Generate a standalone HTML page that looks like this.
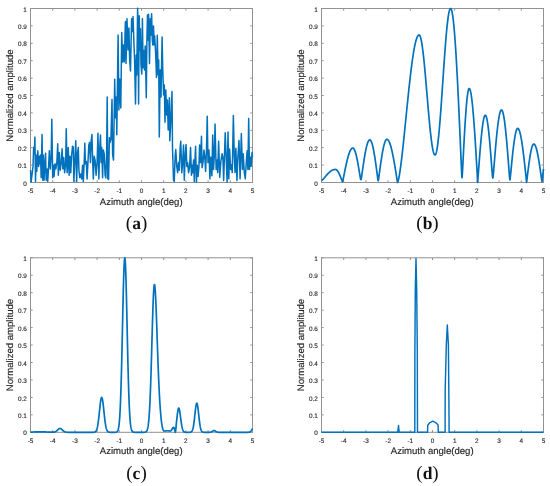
<!DOCTYPE html><html><head><meta charset="utf-8"><title>Figure</title><style>html,body{margin:0;padding:0;background:#fff;width:550px;height:486px;overflow:hidden}svg{display:block}text{text-rendering:geometricPrecision}</style></head><body><svg width="550" height="486" viewBox="0 0 550 486"><g stroke="#929292" stroke-width="1" fill="none"><line x1="30.50" y1="182.5" x2="30.50" y2="180.3" /><line x1="30.50" y1="8.5" x2="30.50" y2="10.7" /><line x1="52.70" y1="182.5" x2="52.70" y2="180.3" /><line x1="52.70" y1="8.5" x2="52.70" y2="10.7" /><line x1="74.90" y1="182.5" x2="74.90" y2="180.3" /><line x1="74.90" y1="8.5" x2="74.90" y2="10.7" /><line x1="97.10" y1="182.5" x2="97.10" y2="180.3" /><line x1="97.10" y1="8.5" x2="97.10" y2="10.7" /><line x1="119.30" y1="182.5" x2="119.30" y2="180.3" /><line x1="119.30" y1="8.5" x2="119.30" y2="10.7" /><line x1="141.50" y1="182.5" x2="141.50" y2="180.3" /><line x1="141.50" y1="8.5" x2="141.50" y2="10.7" /><line x1="163.70" y1="182.5" x2="163.70" y2="180.3" /><line x1="163.70" y1="8.5" x2="163.70" y2="10.7" /><line x1="185.90" y1="182.5" x2="185.90" y2="180.3" /><line x1="185.90" y1="8.5" x2="185.90" y2="10.7" /><line x1="208.10" y1="182.5" x2="208.10" y2="180.3" /><line x1="208.10" y1="8.5" x2="208.10" y2="10.7" /><line x1="230.30" y1="182.5" x2="230.30" y2="180.3" /><line x1="230.30" y1="8.5" x2="230.30" y2="10.7" /><line x1="252.50" y1="182.5" x2="252.50" y2="180.3" /><line x1="252.50" y1="8.5" x2="252.50" y2="10.7" /><line x1="30.5" y1="182.50" x2="32.7" y2="182.50" /><line x1="252.5" y1="182.50" x2="250.3" y2="182.50" /><line x1="30.5" y1="165.10" x2="32.7" y2="165.10" /><line x1="252.5" y1="165.10" x2="250.3" y2="165.10" /><line x1="30.5" y1="147.70" x2="32.7" y2="147.70" /><line x1="252.5" y1="147.70" x2="250.3" y2="147.70" /><line x1="30.5" y1="130.30" x2="32.7" y2="130.30" /><line x1="252.5" y1="130.30" x2="250.3" y2="130.30" /><line x1="30.5" y1="112.90" x2="32.7" y2="112.90" /><line x1="252.5" y1="112.90" x2="250.3" y2="112.90" /><line x1="30.5" y1="95.50" x2="32.7" y2="95.50" /><line x1="252.5" y1="95.50" x2="250.3" y2="95.50" /><line x1="30.5" y1="78.10" x2="32.7" y2="78.10" /><line x1="252.5" y1="78.10" x2="250.3" y2="78.10" /><line x1="30.5" y1="60.70" x2="32.7" y2="60.70" /><line x1="252.5" y1="60.70" x2="250.3" y2="60.70" /><line x1="30.5" y1="43.30" x2="32.7" y2="43.30" /><line x1="252.5" y1="43.30" x2="250.3" y2="43.30" /><line x1="30.5" y1="25.90" x2="32.7" y2="25.90" /><line x1="252.5" y1="25.90" x2="250.3" y2="25.90" /><line x1="30.5" y1="8.50" x2="32.7" y2="8.50" /><line x1="252.5" y1="8.50" x2="250.3" y2="8.50" /><rect x="30.5" y="8.5" width="222.0" height="174.0" fill="none" /></g><g font-family="Liberation Sans, Arial, sans-serif" font-size="6.4" fill="#262626" stroke="#262626" stroke-width="0.12"><text x="30.50" y="193.30" text-anchor="middle">-5</text><text x="52.70" y="193.30" text-anchor="middle">-4</text><text x="74.90" y="193.30" text-anchor="middle">-3</text><text x="97.10" y="193.30" text-anchor="middle">-2</text><text x="119.30" y="193.30" text-anchor="middle">-1</text><text x="141.50" y="193.30" text-anchor="middle">0</text><text x="163.70" y="193.30" text-anchor="middle">1</text><text x="185.90" y="193.30" text-anchor="middle">2</text><text x="208.10" y="193.30" text-anchor="middle">3</text><text x="230.30" y="193.30" text-anchor="middle">4</text><text x="252.50" y="193.30" text-anchor="middle">5</text><text x="26.90" y="185.60" text-anchor="end">0</text><text x="26.90" y="168.20" text-anchor="end">0.1</text><text x="26.90" y="150.80" text-anchor="end">0.2</text><text x="26.90" y="133.40" text-anchor="end">0.3</text><text x="26.90" y="116.00" text-anchor="end">0.4</text><text x="26.90" y="98.60" text-anchor="end">0.5</text><text x="26.90" y="81.20" text-anchor="end">0.6</text><text x="26.90" y="63.80" text-anchor="end">0.7</text><text x="26.90" y="46.40" text-anchor="end">0.8</text><text x="26.90" y="29.00" text-anchor="end">0.9</text><text x="26.90" y="11.60" text-anchor="end">1</text></g><g font-family="Liberation Sans, Arial, sans-serif" font-size="9.55" fill="#262626" stroke="#262626" stroke-width="0.15"><text x="141.20" y="204.50" text-anchor="middle">Azimuth angle(deg)</text><text transform="translate(13.00,95.50) rotate(-90)" x="0" y="0" text-anchor="middle">Normalized amplitude</text></g><text x="136.50" y="229.10" text-anchor="middle" font-family="Liberation Serif, Times New Roman, serif" font-weight="bold" font-size="17.5" fill="#111"><tspan font-weight="normal" font-size="19">(</tspan>a<tspan font-weight="normal" font-size="19">)</tspan></text><g stroke="#929292" stroke-width="1" fill="none"><line x1="321.50" y1="182.5" x2="321.50" y2="180.3" /><line x1="321.50" y1="8.5" x2="321.50" y2="10.7" /><line x1="343.70" y1="182.5" x2="343.70" y2="180.3" /><line x1="343.70" y1="8.5" x2="343.70" y2="10.7" /><line x1="365.90" y1="182.5" x2="365.90" y2="180.3" /><line x1="365.90" y1="8.5" x2="365.90" y2="10.7" /><line x1="388.10" y1="182.5" x2="388.10" y2="180.3" /><line x1="388.10" y1="8.5" x2="388.10" y2="10.7" /><line x1="410.30" y1="182.5" x2="410.30" y2="180.3" /><line x1="410.30" y1="8.5" x2="410.30" y2="10.7" /><line x1="432.50" y1="182.5" x2="432.50" y2="180.3" /><line x1="432.50" y1="8.5" x2="432.50" y2="10.7" /><line x1="454.70" y1="182.5" x2="454.70" y2="180.3" /><line x1="454.70" y1="8.5" x2="454.70" y2="10.7" /><line x1="476.90" y1="182.5" x2="476.90" y2="180.3" /><line x1="476.90" y1="8.5" x2="476.90" y2="10.7" /><line x1="499.10" y1="182.5" x2="499.10" y2="180.3" /><line x1="499.10" y1="8.5" x2="499.10" y2="10.7" /><line x1="521.30" y1="182.5" x2="521.30" y2="180.3" /><line x1="521.30" y1="8.5" x2="521.30" y2="10.7" /><line x1="543.50" y1="182.5" x2="543.50" y2="180.3" /><line x1="543.50" y1="8.5" x2="543.50" y2="10.7" /><line x1="321.5" y1="182.50" x2="323.7" y2="182.50" /><line x1="543.5" y1="182.50" x2="541.3" y2="182.50" /><line x1="321.5" y1="165.10" x2="323.7" y2="165.10" /><line x1="543.5" y1="165.10" x2="541.3" y2="165.10" /><line x1="321.5" y1="147.70" x2="323.7" y2="147.70" /><line x1="543.5" y1="147.70" x2="541.3" y2="147.70" /><line x1="321.5" y1="130.30" x2="323.7" y2="130.30" /><line x1="543.5" y1="130.30" x2="541.3" y2="130.30" /><line x1="321.5" y1="112.90" x2="323.7" y2="112.90" /><line x1="543.5" y1="112.90" x2="541.3" y2="112.90" /><line x1="321.5" y1="95.50" x2="323.7" y2="95.50" /><line x1="543.5" y1="95.50" x2="541.3" y2="95.50" /><line x1="321.5" y1="78.10" x2="323.7" y2="78.10" /><line x1="543.5" y1="78.10" x2="541.3" y2="78.10" /><line x1="321.5" y1="60.70" x2="323.7" y2="60.70" /><line x1="543.5" y1="60.70" x2="541.3" y2="60.70" /><line x1="321.5" y1="43.30" x2="323.7" y2="43.30" /><line x1="543.5" y1="43.30" x2="541.3" y2="43.30" /><line x1="321.5" y1="25.90" x2="323.7" y2="25.90" /><line x1="543.5" y1="25.90" x2="541.3" y2="25.90" /><line x1="321.5" y1="8.50" x2="323.7" y2="8.50" /><line x1="543.5" y1="8.50" x2="541.3" y2="8.50" /><rect x="321.5" y="8.5" width="222.0" height="174.0" fill="none" /></g><g font-family="Liberation Sans, Arial, sans-serif" font-size="6.4" fill="#262626" stroke="#262626" stroke-width="0.12"><text x="321.50" y="193.30" text-anchor="middle">-5</text><text x="343.70" y="193.30" text-anchor="middle">-4</text><text x="365.90" y="193.30" text-anchor="middle">-3</text><text x="388.10" y="193.30" text-anchor="middle">-2</text><text x="410.30" y="193.30" text-anchor="middle">-1</text><text x="432.50" y="193.30" text-anchor="middle">0</text><text x="454.70" y="193.30" text-anchor="middle">1</text><text x="476.90" y="193.30" text-anchor="middle">2</text><text x="499.10" y="193.30" text-anchor="middle">3</text><text x="521.30" y="193.30" text-anchor="middle">4</text><text x="543.50" y="193.30" text-anchor="middle">5</text><text x="317.90" y="185.60" text-anchor="end">0</text><text x="317.90" y="168.20" text-anchor="end">0.1</text><text x="317.90" y="150.80" text-anchor="end">0.2</text><text x="317.90" y="133.40" text-anchor="end">0.3</text><text x="317.90" y="116.00" text-anchor="end">0.4</text><text x="317.90" y="98.60" text-anchor="end">0.5</text><text x="317.90" y="81.20" text-anchor="end">0.6</text><text x="317.90" y="63.80" text-anchor="end">0.7</text><text x="317.90" y="46.40" text-anchor="end">0.8</text><text x="317.90" y="29.00" text-anchor="end">0.9</text><text x="317.90" y="11.60" text-anchor="end">1</text></g><g font-family="Liberation Sans, Arial, sans-serif" font-size="9.55" fill="#262626" stroke="#262626" stroke-width="0.15"><text x="432.20" y="204.50" text-anchor="middle">Azimuth angle(deg)</text><text transform="translate(304.00,95.50) rotate(-90)" x="0" y="0" text-anchor="middle">Normalized amplitude</text></g><text x="427.50" y="229.10" text-anchor="middle" font-family="Liberation Serif, Times New Roman, serif" font-weight="bold" font-size="17.5" fill="#111"><tspan font-weight="normal" font-size="19">(</tspan>b<tspan font-weight="normal" font-size="19">)</tspan></text><g stroke="#929292" stroke-width="1" fill="none"><line x1="30.50" y1="432.3" x2="30.50" y2="430.1" /><line x1="30.50" y1="257.8" x2="30.50" y2="260.0" /><line x1="52.70" y1="432.3" x2="52.70" y2="430.1" /><line x1="52.70" y1="257.8" x2="52.70" y2="260.0" /><line x1="74.90" y1="432.3" x2="74.90" y2="430.1" /><line x1="74.90" y1="257.8" x2="74.90" y2="260.0" /><line x1="97.10" y1="432.3" x2="97.10" y2="430.1" /><line x1="97.10" y1="257.8" x2="97.10" y2="260.0" /><line x1="119.30" y1="432.3" x2="119.30" y2="430.1" /><line x1="119.30" y1="257.8" x2="119.30" y2="260.0" /><line x1="141.50" y1="432.3" x2="141.50" y2="430.1" /><line x1="141.50" y1="257.8" x2="141.50" y2="260.0" /><line x1="163.70" y1="432.3" x2="163.70" y2="430.1" /><line x1="163.70" y1="257.8" x2="163.70" y2="260.0" /><line x1="185.90" y1="432.3" x2="185.90" y2="430.1" /><line x1="185.90" y1="257.8" x2="185.90" y2="260.0" /><line x1="208.10" y1="432.3" x2="208.10" y2="430.1" /><line x1="208.10" y1="257.8" x2="208.10" y2="260.0" /><line x1="230.30" y1="432.3" x2="230.30" y2="430.1" /><line x1="230.30" y1="257.8" x2="230.30" y2="260.0" /><line x1="252.50" y1="432.3" x2="252.50" y2="430.1" /><line x1="252.50" y1="257.8" x2="252.50" y2="260.0" /><line x1="30.5" y1="432.30" x2="32.7" y2="432.30" /><line x1="252.5" y1="432.30" x2="250.3" y2="432.30" /><line x1="30.5" y1="414.85" x2="32.7" y2="414.85" /><line x1="252.5" y1="414.85" x2="250.3" y2="414.85" /><line x1="30.5" y1="397.40" x2="32.7" y2="397.40" /><line x1="252.5" y1="397.40" x2="250.3" y2="397.40" /><line x1="30.5" y1="379.95" x2="32.7" y2="379.95" /><line x1="252.5" y1="379.95" x2="250.3" y2="379.95" /><line x1="30.5" y1="362.50" x2="32.7" y2="362.50" /><line x1="252.5" y1="362.50" x2="250.3" y2="362.50" /><line x1="30.5" y1="345.05" x2="32.7" y2="345.05" /><line x1="252.5" y1="345.05" x2="250.3" y2="345.05" /><line x1="30.5" y1="327.60" x2="32.7" y2="327.60" /><line x1="252.5" y1="327.60" x2="250.3" y2="327.60" /><line x1="30.5" y1="310.15" x2="32.7" y2="310.15" /><line x1="252.5" y1="310.15" x2="250.3" y2="310.15" /><line x1="30.5" y1="292.70" x2="32.7" y2="292.70" /><line x1="252.5" y1="292.70" x2="250.3" y2="292.70" /><line x1="30.5" y1="275.25" x2="32.7" y2="275.25" /><line x1="252.5" y1="275.25" x2="250.3" y2="275.25" /><line x1="30.5" y1="257.80" x2="32.7" y2="257.80" /><line x1="252.5" y1="257.80" x2="250.3" y2="257.80" /><rect x="30.5" y="257.8" width="222.0" height="174.5" fill="none" /></g><g font-family="Liberation Sans, Arial, sans-serif" font-size="6.4" fill="#262626" stroke="#262626" stroke-width="0.12"><text x="30.50" y="443.10" text-anchor="middle">-5</text><text x="52.70" y="443.10" text-anchor="middle">-4</text><text x="74.90" y="443.10" text-anchor="middle">-3</text><text x="97.10" y="443.10" text-anchor="middle">-2</text><text x="119.30" y="443.10" text-anchor="middle">-1</text><text x="141.50" y="443.10" text-anchor="middle">0</text><text x="163.70" y="443.10" text-anchor="middle">1</text><text x="185.90" y="443.10" text-anchor="middle">2</text><text x="208.10" y="443.10" text-anchor="middle">3</text><text x="230.30" y="443.10" text-anchor="middle">4</text><text x="252.50" y="443.10" text-anchor="middle">5</text><text x="26.90" y="435.40" text-anchor="end">0</text><text x="26.90" y="417.95" text-anchor="end">0.1</text><text x="26.90" y="400.50" text-anchor="end">0.2</text><text x="26.90" y="383.05" text-anchor="end">0.3</text><text x="26.90" y="365.60" text-anchor="end">0.4</text><text x="26.90" y="348.15" text-anchor="end">0.5</text><text x="26.90" y="330.70" text-anchor="end">0.6</text><text x="26.90" y="313.25" text-anchor="end">0.7</text><text x="26.90" y="295.80" text-anchor="end">0.8</text><text x="26.90" y="278.35" text-anchor="end">0.9</text><text x="26.90" y="260.90" text-anchor="end">1</text></g><g font-family="Liberation Sans, Arial, sans-serif" font-size="9.55" fill="#262626" stroke="#262626" stroke-width="0.15"><text x="141.20" y="454.30" text-anchor="middle">Azimuth angle(deg)</text><text transform="translate(13.00,345.05) rotate(-90)" x="0" y="0" text-anchor="middle">Normalized amplitude</text></g><text x="136.50" y="478.90" text-anchor="middle" font-family="Liberation Serif, Times New Roman, serif" font-weight="bold" font-size="17.5" fill="#111"><tspan font-weight="normal" font-size="19">(</tspan>c<tspan font-weight="normal" font-size="19">)</tspan></text><g stroke="#929292" stroke-width="1" fill="none"><line x1="321.50" y1="432.3" x2="321.50" y2="430.1" /><line x1="321.50" y1="257.8" x2="321.50" y2="260.0" /><line x1="343.70" y1="432.3" x2="343.70" y2="430.1" /><line x1="343.70" y1="257.8" x2="343.70" y2="260.0" /><line x1="365.90" y1="432.3" x2="365.90" y2="430.1" /><line x1="365.90" y1="257.8" x2="365.90" y2="260.0" /><line x1="388.10" y1="432.3" x2="388.10" y2="430.1" /><line x1="388.10" y1="257.8" x2="388.10" y2="260.0" /><line x1="410.30" y1="432.3" x2="410.30" y2="430.1" /><line x1="410.30" y1="257.8" x2="410.30" y2="260.0" /><line x1="432.50" y1="432.3" x2="432.50" y2="430.1" /><line x1="432.50" y1="257.8" x2="432.50" y2="260.0" /><line x1="454.70" y1="432.3" x2="454.70" y2="430.1" /><line x1="454.70" y1="257.8" x2="454.70" y2="260.0" /><line x1="476.90" y1="432.3" x2="476.90" y2="430.1" /><line x1="476.90" y1="257.8" x2="476.90" y2="260.0" /><line x1="499.10" y1="432.3" x2="499.10" y2="430.1" /><line x1="499.10" y1="257.8" x2="499.10" y2="260.0" /><line x1="521.30" y1="432.3" x2="521.30" y2="430.1" /><line x1="521.30" y1="257.8" x2="521.30" y2="260.0" /><line x1="543.50" y1="432.3" x2="543.50" y2="430.1" /><line x1="543.50" y1="257.8" x2="543.50" y2="260.0" /><line x1="321.5" y1="432.30" x2="323.7" y2="432.30" /><line x1="543.5" y1="432.30" x2="541.3" y2="432.30" /><line x1="321.5" y1="414.85" x2="323.7" y2="414.85" /><line x1="543.5" y1="414.85" x2="541.3" y2="414.85" /><line x1="321.5" y1="397.40" x2="323.7" y2="397.40" /><line x1="543.5" y1="397.40" x2="541.3" y2="397.40" /><line x1="321.5" y1="379.95" x2="323.7" y2="379.95" /><line x1="543.5" y1="379.95" x2="541.3" y2="379.95" /><line x1="321.5" y1="362.50" x2="323.7" y2="362.50" /><line x1="543.5" y1="362.50" x2="541.3" y2="362.50" /><line x1="321.5" y1="345.05" x2="323.7" y2="345.05" /><line x1="543.5" y1="345.05" x2="541.3" y2="345.05" /><line x1="321.5" y1="327.60" x2="323.7" y2="327.60" /><line x1="543.5" y1="327.60" x2="541.3" y2="327.60" /><line x1="321.5" y1="310.15" x2="323.7" y2="310.15" /><line x1="543.5" y1="310.15" x2="541.3" y2="310.15" /><line x1="321.5" y1="292.70" x2="323.7" y2="292.70" /><line x1="543.5" y1="292.70" x2="541.3" y2="292.70" /><line x1="321.5" y1="275.25" x2="323.7" y2="275.25" /><line x1="543.5" y1="275.25" x2="541.3" y2="275.25" /><line x1="321.5" y1="257.80" x2="323.7" y2="257.80" /><line x1="543.5" y1="257.80" x2="541.3" y2="257.80" /><rect x="321.5" y="257.8" width="222.0" height="174.5" fill="none" /></g><g font-family="Liberation Sans, Arial, sans-serif" font-size="6.4" fill="#262626" stroke="#262626" stroke-width="0.12"><text x="321.50" y="443.10" text-anchor="middle">-5</text><text x="343.70" y="443.10" text-anchor="middle">-4</text><text x="365.90" y="443.10" text-anchor="middle">-3</text><text x="388.10" y="443.10" text-anchor="middle">-2</text><text x="410.30" y="443.10" text-anchor="middle">-1</text><text x="432.50" y="443.10" text-anchor="middle">0</text><text x="454.70" y="443.10" text-anchor="middle">1</text><text x="476.90" y="443.10" text-anchor="middle">2</text><text x="499.10" y="443.10" text-anchor="middle">3</text><text x="521.30" y="443.10" text-anchor="middle">4</text><text x="543.50" y="443.10" text-anchor="middle">5</text><text x="317.90" y="435.40" text-anchor="end">0</text><text x="317.90" y="417.95" text-anchor="end">0.1</text><text x="317.90" y="400.50" text-anchor="end">0.2</text><text x="317.90" y="383.05" text-anchor="end">0.3</text><text x="317.90" y="365.60" text-anchor="end">0.4</text><text x="317.90" y="348.15" text-anchor="end">0.5</text><text x="317.90" y="330.70" text-anchor="end">0.6</text><text x="317.90" y="313.25" text-anchor="end">0.7</text><text x="317.90" y="295.80" text-anchor="end">0.8</text><text x="317.90" y="278.35" text-anchor="end">0.9</text><text x="317.90" y="260.90" text-anchor="end">1</text></g><g font-family="Liberation Sans, Arial, sans-serif" font-size="9.55" fill="#262626" stroke="#262626" stroke-width="0.15"><text x="432.20" y="454.30" text-anchor="middle">Azimuth angle(deg)</text><text transform="translate(304.00,345.05) rotate(-90)" x="0" y="0" text-anchor="middle">Normalized amplitude</text></g><text x="427.50" y="478.90" text-anchor="middle" font-family="Liberation Serif, Times New Roman, serif" font-weight="bold" font-size="17.5" fill="#111"><tspan font-weight="normal" font-size="19">(</tspan>d<tspan font-weight="normal" font-size="19">)</tspan></text><path d="M30.50,170.14 31.13,182.05 33.02,166.38 33.64,147.57 34.27,153.84 34.90,136.91 35.52,181.43 36.15,155.09 36.78,171.39 37.78,150.71 38.66,166.38 39.29,156.35 39.91,163.87 40.54,155.09 41.17,177.66 42.04,134.40 42.80,180.17 43.30,155.09 44.05,180.17 44.93,162.62 45.55,153.21 46.18,180.17 47.06,168.89 47.69,181.43 48.69,165.13 49.32,150.71 50.32,168.89 51.20,155.09 51.82,119.36 52.70,177.66 53.33,165.13 54.08,176.41 54.96,163.87 55.84,168.89 56.84,162.62 57.72,143.81 58.34,175.16 59.35,152.59 60.23,170.14 61.23,162.62 62.11,148.82 62.86,168.89 63.74,157.60 64.61,172.65 65.62,165.13 66.24,128.76 67.12,172.65 67.50,167.63 68.26,147.57 69.13,175.16 70.01,156.35 70.76,172.65 71.64,155.09 72.52,146.32 73.27,146.94 73.90,181.43 74.78,162.62 75.78,140.67 76.66,181.43 77.54,152.59 78.29,147.57 78.92,170.14 79.79,177.66 80.80,173.90 81.67,178.92 82.55,165.13 83.30,181.43 84.18,162.62 84.81,143.18 85.44,163.87 86.31,161.36 87.07,178.92 87.94,162.62 88.82,145.06 89.57,142.55 90.45,162.62 91.08,141.30 91.96,134.40 92.71,162.62 93.34,178.92 94.21,156.35 95.09,160.11 96.09,175.16 97.10,162.62 97.97,133.15 98.85,178.92 99.61,150.08 100.48,135.03 101.11,162.62 101.74,147.57 102.61,177.66 103.37,150.08 104.24,153.84 105.12,175.16 105.82,177.87 106.59,156.27 107.20,97.10 107.80,178.60 108.60,179.40 109.40,137.80 110.10,142.40 110.90,139.30 112.00,99.40 112.60,154.70 113.50,160.10 114.70,79.30 115.40,117.70 116.20,97.10 116.80,134.70 118.10,35.10 118.90,110.00 119.70,79.00 120.80,107.90 121.70,32.50 122.70,62.10 123.50,45.00 124.30,61.80 125.40,21.60 126.00,63.40 127.00,18.70 128.00,50.00 128.90,28.10 129.70,60.50 130.50,71.00 131.60,18.70 132.30,31.60 133.00,16.50 134.00,45.00 134.60,60.00 135.50,104.00 136.20,55.00 136.80,75.00 137.60,8.30 138.10,30.00 138.60,104.00 139.20,15.80 139.80,50.00 140.40,28.80 141.00,65.00 141.80,74.00 142.40,18.70 143.10,67.70 143.80,50.40 144.50,70.00 145.20,46.00 146.30,97.80 146.90,40.00 147.50,15.10 148.10,40.00 148.60,14.30 149.50,63.40 150.30,18.70 150.90,35.00 151.60,13.80 152.30,40.00 152.80,45.00 153.50,25.90 154.20,45.00 154.70,36.00 155.70,55.00 156.50,77.40 157.30,35.30 158.10,75.00 158.70,60.00 159.30,137.00 160.20,70.00 161.00,97.00 162.10,37.00 162.80,71.30 163.60,95.00 164.30,85.00 165.00,122.30 165.80,90.00 166.60,115.00 167.40,100.00 168.20,130.00 169.40,97.80 169.80,140.80 170.60,125.00 172.00,91.60 172.50,147.80 173.50,180.17 174.26,181.43 175.13,156.35 175.76,149.45 176.76,166.38 177.64,172.65 178.52,162.62 179.27,170.14 180.15,147.57 180.78,141.30 181.78,172.65 182.66,162.62 183.54,145.06 184.29,180.17 185.17,156.35 186.04,144.44 186.80,166.38 187.67,162.62 188.55,172.65 189.55,167.63 190.56,147.57 191.44,175.16 192.06,165.13 192.69,172.65 193.57,160.11 194.32,181.43 194.82,162.62 195.57,146.32 196.45,182.30 197.33,165.13 198.08,176.41 198.96,166.38 199.59,145.06 200.46,162.62 201.47,136.29 202.09,167.63 203.10,161.36 203.97,150.08 204.85,157.60 205.61,171.39 206.48,150.08 207.24,116.22 207.99,162.62 208.99,150.08 209.88,178.86 210.82,156.95 211.91,175.73 212.69,135.04 213.48,169.47 214.26,156.95 215.04,124.08 216.14,169.47 217.08,160.08 217.70,172.60 218.64,141.30 219.74,177.29 220.83,161.64 222.08,153.82 222.87,156.95 223.65,180.42 224.43,156.95 225.21,132.69 226.47,164.77 227.09,181.99 228.03,131.91 228.81,178.86 229.60,149.12 230.69,169.47 231.47,164.77 232.26,172.60 233.35,115.48 234.29,156.95 235.07,172.60 235.86,148.34 236.95,180.42 237.73,160.08 238.99,140.52 240.08,178.86 241.33,133.47 242.43,169.47 243.21,153.82 244.31,172.60 245.25,178.86 246.34,161.64 247.12,150.69 247.91,169.47 248.69,118.61 249.47,169.47 250.25,156.95 251.04,166.34 252.13,152.25 252.50,156.95" fill="none" stroke="#0072BD" stroke-width="1.5" stroke-linejoin="round" stroke-linecap="butt" /><path d="M321.50,180.41 321.75,180.38 322.00,180.29 322.25,180.14 322.50,179.95 322.75,179.72 323.01,179.47 323.26,179.20 323.51,178.91 323.76,178.62 324.01,178.31 324.26,178.00 324.51,177.69 324.76,177.38 325.01,177.07 325.26,176.76 325.51,176.44 325.77,176.14 326.02,175.83 326.27,175.53 326.52,175.23 326.77,174.94 327.02,174.65 327.27,174.36 327.52,174.08 327.77,173.81 328.02,173.54 328.27,173.28 328.53,173.03 328.78,172.78 329.03,172.54 329.28,172.31 329.53,172.09 329.78,171.87 330.03,171.66 330.28,171.46 330.53,171.27 330.78,171.09 331.03,170.92 331.29,170.75 331.54,170.60 331.79,170.45 332.04,170.32 332.29,170.19 332.54,170.07 332.79,169.96 333.04,169.87 333.29,169.78 333.54,169.70 333.79,169.64 334.05,169.58 334.30,169.53 334.55,169.50 334.80,169.47 335.05,169.46 335.30,169.45 335.55,169.47 335.80,169.53 336.06,169.62 336.31,169.75 336.56,169.92 336.81,170.13 337.06,170.37 337.31,170.65 337.57,170.96 337.82,171.31 338.07,171.69 338.32,172.10 338.57,172.54 338.82,173.01 339.08,173.50 339.33,174.03 339.58,174.57 339.83,175.14 340.08,175.73 340.33,176.34 340.59,176.96 340.84,177.60 341.09,178.25 341.34,178.91 341.59,179.57 341.84,180.22 342.10,180.85 342.35,181.38 342.60,181.63 342.86,180.89 343.11,179.66 343.37,178.36 343.62,177.04 343.88,175.72 344.13,174.41 344.39,173.11 344.64,171.82 344.90,170.55 345.15,169.29 345.41,168.05 345.66,166.84 345.92,165.65 346.17,164.48 346.43,163.35 346.68,162.24 346.94,161.16 347.19,160.12 347.44,159.11 347.70,158.13 347.96,157.19 348.21,156.30 348.47,155.44 348.72,154.62 348.98,153.85 349.23,153.12 349.49,152.44 349.74,151.80 350.00,151.21 350.25,150.67 350.50,150.18 350.76,149.73 351.01,149.34 351.27,149.00 351.53,148.71 351.78,148.47 352.04,148.29 352.29,148.15 352.55,148.07 352.80,148.05 353.05,148.09 353.31,148.21 353.56,148.42 353.81,148.71 354.07,149.07 354.32,149.52 354.57,150.05 354.82,150.65 355.08,151.33 355.33,152.09 355.58,152.91 355.84,153.81 356.09,154.78 356.34,155.81 356.60,156.90 356.85,158.06 357.10,159.27 357.36,160.54 357.61,161.86 357.86,163.22 358.12,164.63 358.37,166.07 358.62,167.56 358.88,169.07 359.13,170.60 359.38,172.15 359.63,173.70 359.89,175.25 360.14,176.74 360.39,178.13 360.65,179.25 360.90,179.72 361.15,179.12 361.41,177.78 361.66,176.15 361.92,174.41 362.17,172.63 362.43,170.85 362.68,169.06 362.93,167.30 363.19,165.55 363.44,163.83 363.70,162.15 363.95,160.50 364.21,158.90 364.46,157.34 364.71,155.83 364.97,154.37 365.22,152.97 365.48,151.63 365.73,150.34 365.99,149.13 366.24,147.97 366.49,146.89 366.75,145.88 367.00,144.94 367.26,144.07 367.51,143.29 367.77,142.58 368.02,141.95 368.27,141.40 368.53,140.93 368.78,140.55 369.04,140.25 369.29,140.04 369.55,139.91 369.80,139.87 370.05,139.92 370.31,140.06 370.56,140.30 370.82,140.64 371.07,141.07 371.33,141.59 371.58,142.21 371.84,142.92 372.09,143.72 372.35,144.60 372.60,145.57 372.85,146.63 373.11,147.76 373.36,148.97 373.62,150.26 373.87,151.62 374.13,153.05 374.38,154.55 374.64,156.11 374.89,157.73 375.15,159.41 375.40,161.13 375.65,162.90 375.91,164.72 376.16,166.57 376.42,168.46 376.67,170.37 376.93,172.31 377.18,174.25 377.44,176.19 377.69,178.09 377.95,179.83 378.20,180.76 378.46,179.86 378.71,178.16 378.97,176.29 379.22,174.39 379.48,172.48 379.74,170.57 379.99,168.69 380.25,166.83 380.50,165.00 380.76,163.20 381.01,161.45 381.27,159.74 381.53,158.07 381.78,156.46 382.04,154.90 382.29,153.40 382.55,151.96 382.81,150.59 383.06,149.28 383.32,148.05 383.57,146.89 383.83,145.80 384.09,144.79 384.34,143.86 384.60,143.02 384.85,142.26 385.11,141.58 385.36,140.99 385.62,140.49 385.88,140.08 386.13,139.76 386.39,139.53 386.64,139.39 386.90,139.35 387.15,139.38 387.40,139.47 387.66,139.62 387.91,139.83 388.16,140.10 388.41,140.43 388.67,140.82 388.92,141.27 389.17,141.77 389.42,142.33 389.68,142.95 389.93,143.62 390.18,144.35 390.43,145.13 390.69,145.96 390.94,146.85 391.19,147.78 391.44,148.76 391.70,149.79 391.95,150.87 392.20,151.99 392.45,153.15 392.70,154.35 392.96,155.60 393.21,156.88 393.46,158.19 393.71,159.54 393.97,160.92 394.22,162.34 394.47,163.78 394.72,165.24 394.98,166.73 395.23,168.25 395.48,169.78 395.73,171.33 395.99,172.90 396.24,174.48 396.49,176.07 396.74,177.67 397.00,179.28 397.25,180.89 397.50,182.50 397.75,182.14 398.00,181.47 398.25,180.61 398.50,179.59 398.76,178.44 399.01,177.16 399.26,175.78 399.51,174.30 399.76,172.73 400.01,171.08 400.26,169.35 400.51,167.54 400.77,165.67 401.02,163.73 401.27,161.73 401.52,159.68 401.77,157.58 402.02,155.43 402.27,153.23 402.52,151.00 402.77,148.72 403.03,146.41 403.28,144.07 403.53,141.70 403.78,139.30 404.03,136.88 404.28,134.44 404.53,131.98 404.78,129.51 405.03,127.02 405.29,124.53 405.54,122.02 405.79,119.52 406.04,117.01 406.29,114.50 406.54,112.00 406.79,109.50 407.04,107.01 407.30,104.53 407.55,102.06 407.80,99.61 408.05,97.18 408.30,94.77 408.55,92.37 408.80,90.00 409.05,87.66 409.30,85.35 409.56,83.07 409.81,80.82 410.06,78.60 410.31,76.42 410.56,74.28 410.81,72.18 411.06,70.12 411.31,68.10 411.57,66.14 411.82,64.21 412.07,62.34 412.32,60.52 412.57,58.75 412.82,57.03 413.07,55.37 413.32,53.77 413.57,52.22 413.83,50.73 414.08,49.31 414.33,47.94 414.58,46.64 414.83,45.40 415.08,44.23 415.33,43.13 415.58,42.09 415.83,41.11 416.09,40.21 416.34,39.38 416.59,38.61 416.84,37.92 417.09,37.30 417.34,36.75 417.59,36.27 417.84,35.87 418.10,35.54 418.35,35.28 418.60,35.10 418.85,34.98 419.10,34.95 419.35,35.02 419.60,35.25 419.86,35.62 420.11,36.14 420.36,36.80 420.61,37.61 420.87,38.57 421.12,39.66 421.37,40.89 421.62,42.26 421.88,43.75 422.13,45.38 422.38,47.13 422.63,48.99 422.89,50.97 423.14,53.06 423.39,55.26 423.64,57.55 423.90,59.94 424.15,62.41 424.40,64.96 424.65,67.59 424.90,70.29 425.16,73.05 425.41,75.86 425.66,78.72 425.91,81.62 426.17,84.55 426.42,87.51 426.67,90.49 426.92,93.48 427.18,96.47 427.43,99.46 427.68,102.44 427.93,105.40 428.19,108.34 428.44,111.24 428.69,114.10 428.94,116.91 429.20,119.67 429.45,122.36 429.70,124.99 429.95,127.55 430.20,130.02 430.46,132.41 430.71,134.70 430.96,136.89 431.21,138.98 431.47,140.96 431.72,142.83 431.97,144.58 432.22,146.20 432.48,147.70 432.73,149.06 432.98,150.29 433.23,151.39 433.49,152.34 433.74,153.15 433.99,153.82 434.24,154.34 434.50,154.71 434.75,154.93 435.00,155.01 435.25,154.91 435.50,154.63 435.75,154.16 436.01,153.51 436.26,152.67 436.51,151.65 436.76,150.45 437.01,149.07 437.26,147.52 437.52,145.80 437.77,143.92 438.02,141.88 438.27,139.68 438.52,137.34 438.77,134.85 439.03,132.22 439.28,129.47 439.53,126.59 439.78,123.60 440.03,120.50 440.28,117.30 440.54,114.01 440.79,110.64 441.04,107.20 441.29,103.68 441.54,100.12 441.79,96.50 442.05,92.85 442.30,89.16 442.55,85.46 442.80,81.75 443.05,78.04 443.30,74.34 443.55,70.66 443.81,67.01 444.06,63.39 444.31,59.82 444.56,56.31 444.81,52.87 445.06,49.49 445.32,46.20 445.57,43.01 445.82,39.91 446.07,36.91 446.32,34.04 446.57,31.28 446.83,28.66 447.08,26.17 447.33,23.83 447.58,21.63 447.83,19.59 448.08,17.70 448.34,15.99 448.59,14.44 448.84,13.06 449.09,11.86 449.34,10.84 449.59,10.00 449.85,9.34 450.10,8.88 450.35,8.59 450.60,8.50 450.85,8.61 451.11,8.92 451.36,9.45 451.61,10.19 451.87,11.14 452.12,12.30 452.37,13.66 452.63,15.24 452.88,17.01 453.13,18.99 453.39,21.16 453.64,23.53 453.89,26.10 454.15,28.85 454.40,31.79 454.65,34.92 454.91,38.22 455.16,41.70 455.41,45.36 455.67,49.17 455.92,53.15 456.17,57.29 456.43,61.58 456.68,66.02 456.93,70.60 457.19,75.31 457.44,80.15 457.69,85.12 457.95,90.21 458.20,95.40 458.45,100.71 458.71,106.11 458.96,111.60 459.21,117.17 459.47,122.82 459.72,128.55 459.97,134.33 460.23,140.16 460.48,146.03 460.73,151.93 460.99,157.84 461.24,163.72 461.49,169.49 461.75,174.82 462.00,177.80 462.26,175.45 462.51,170.99 462.77,166.09 463.03,161.10 463.29,156.10 463.54,151.15 463.80,146.28 464.06,141.51 464.31,136.86 464.57,132.35 464.83,127.99 465.09,123.80 465.34,119.79 465.60,115.98 465.86,112.37 466.11,108.98 466.37,105.82 466.63,102.90 466.89,100.23 467.14,97.82 467.40,95.67 467.66,93.80 467.91,92.20 468.17,90.89 468.43,89.86 468.69,89.13 468.94,88.69 469.20,88.54 469.45,88.64 469.70,88.94 469.95,89.44 470.20,90.14 470.45,91.04 470.70,92.13 470.95,93.41 471.20,94.88 471.45,96.55 471.70,98.39 471.95,100.41 472.20,102.61 472.45,104.98 472.70,107.52 472.95,110.21 473.20,113.06 473.45,116.06 473.70,119.20 473.95,122.47 474.20,125.88 474.45,129.40 474.70,133.04 474.95,136.78 475.20,140.62 475.45,144.55 475.70,148.56 475.95,152.64 476.20,156.79 476.45,160.99 476.70,165.23 476.95,169.52 477.20,173.83 477.45,178.16 477.70,182.50 477.95,178.98 478.21,175.48 478.46,171.99 478.71,168.54 478.97,165.12 479.22,161.75 479.47,158.43 479.73,155.18 479.98,152.01 480.23,148.92 480.49,145.92 480.74,143.02 480.99,140.23 481.25,137.56 481.50,135.01 481.75,132.59 482.01,130.30 482.26,128.16 482.51,126.17 482.77,124.33 483.02,122.66 483.27,121.14 483.53,119.80 483.78,118.62 484.03,117.62 484.29,116.80 484.54,116.16 484.79,115.70 485.05,115.43 485.30,115.34 485.55,115.43 485.80,115.70 486.05,116.16 486.30,116.80 486.55,117.61 486.80,118.61 487.05,119.78 487.30,121.12 487.55,122.62 487.80,124.29 488.05,126.12 488.30,128.10 488.55,130.23 488.80,132.50 489.05,134.91 489.30,137.44 489.55,140.10 489.80,142.87 490.05,145.74 490.30,148.71 490.55,151.76 490.80,154.89 491.05,158.09 491.30,161.34 491.55,164.62 491.80,167.90 492.05,171.15 492.30,174.25 492.55,176.91 492.80,178.15 493.06,177.01 493.31,174.53 493.57,171.59 493.82,168.50 494.08,165.36 494.34,162.21 494.59,159.08 494.85,155.98 495.10,152.92 495.36,149.92 495.61,146.99 495.87,144.12 496.13,141.34 496.38,138.64 496.64,136.03 496.89,133.51 497.15,131.10 497.41,128.80 497.66,126.61 497.92,124.54 498.17,122.59 498.43,120.77 498.69,119.08 498.94,117.52 499.20,116.10 499.45,114.82 499.71,113.69 499.96,112.70 500.22,111.86 500.48,111.17 500.73,110.64 500.99,110.25 501.24,110.02 501.50,109.94 501.75,110.02 502.01,110.27 502.26,110.68 502.52,111.25 502.77,111.98 503.03,112.88 503.28,113.93 503.54,115.13 503.79,116.49 504.05,118.00 504.30,119.65 504.55,121.44 504.81,123.38 505.06,125.44 505.32,127.64 505.57,129.96 505.83,132.39 506.08,134.94 506.34,137.60 506.59,140.36 506.85,143.21 507.10,146.15 507.35,149.17 507.61,152.26 507.86,155.42 508.12,158.64 508.37,161.91 508.63,165.21 508.88,168.53 509.14,171.86 509.39,175.13 509.65,178.17 509.90,179.89 510.15,178.72 510.40,176.44 510.65,173.91 510.91,171.31 511.16,168.70 511.41,166.11 511.66,163.55 511.91,161.03 512.16,158.55 512.42,156.14 512.67,153.79 512.92,151.51 513.17,149.31 513.42,147.20 513.67,145.17 513.93,143.24 514.18,141.41 514.43,139.68 514.68,138.06 514.93,136.56 515.18,135.17 515.44,133.90 515.69,132.76 515.94,131.75 516.19,130.86 516.44,130.11 516.69,129.49 516.95,129.01 517.20,128.66 517.45,128.46 517.70,128.39 517.95,128.44 518.21,128.60 518.46,128.88 518.72,129.26 518.97,129.74 519.23,130.34 519.48,131.03 519.73,131.84 519.99,132.74 520.24,133.74 520.50,134.85 520.75,136.05 521.01,137.34 521.26,138.72 521.51,140.19 521.77,141.75 522.02,143.39 522.28,145.10 522.53,146.90 522.79,148.76 523.04,150.69 523.29,152.69 523.55,154.74 523.80,156.86 524.06,159.02 524.31,161.23 524.57,163.49 524.82,165.78 525.07,168.10 525.33,170.46 525.58,172.84 525.84,175.24 526.09,177.65 526.35,180.07 526.60,182.50 526.86,180.34 527.11,178.19 527.37,176.06 527.63,173.94 527.89,171.85 528.14,169.80 528.40,167.78 528.66,165.82 528.91,163.90 529.17,162.04 529.43,160.25 529.69,158.52 529.94,156.88 530.20,155.31 530.46,153.83 530.71,152.44 530.97,151.14 531.23,149.94 531.49,148.84 531.74,147.85 532.00,146.97 532.26,146.20 532.51,145.55 532.77,145.01 533.03,144.59 533.29,144.29 533.54,144.11 533.80,144.05 534.06,144.09 534.31,144.23 534.57,144.46 534.82,144.78 535.08,145.20 535.34,145.70 535.59,146.29 535.85,146.97 536.11,147.74 536.36,148.58 536.62,149.51 536.88,150.52 537.13,151.61 537.39,152.77 537.64,154.00 537.90,155.30 538.16,156.67 538.41,158.10 538.67,159.58 538.92,161.12 539.18,162.72 539.44,164.36 539.69,166.04 539.95,167.76 540.21,169.52 540.46,171.31 540.72,173.12 540.98,174.95 541.23,176.79 541.49,178.63 541.74,180.42 542.00,181.63 542.25,179.51 542.50,177.40 542.75,175.28 543.00,173.16 543.25,171.05 543.50,168.93" fill="none" stroke="#0072BD" stroke-width="1.7" stroke-linejoin="round" stroke-linecap="butt" /><path d="M30.50,432.15 30.75,432.14 31.00,432.13 31.25,432.12 31.50,432.11 31.75,432.10 32.00,432.08 32.25,432.07 32.50,432.06 32.75,432.05 33.00,432.03 33.25,432.02 33.50,432.01 33.75,432.00 34.00,431.98 34.25,431.97 34.50,431.96 34.75,431.94 35.00,431.93 35.25,431.92 35.50,431.90 35.75,431.89 36.00,431.88 36.25,431.87 36.50,431.86 36.75,431.85 37.00,431.84 37.25,431.83 37.50,431.82 37.75,431.81 38.00,431.80 38.25,431.80 38.50,431.79 38.75,431.79 39.00,431.78 39.25,431.78 39.50,431.78 39.75,431.78 40.00,431.78 40.25,431.78 40.50,431.78 40.75,431.78 41.00,431.78 41.25,431.79 41.50,431.79 41.75,431.80 42.00,431.80 42.25,431.81 42.50,431.82 42.75,431.83 43.00,431.84 43.25,431.85 43.50,431.86 43.75,431.87 44.00,431.88 44.25,431.89 44.50,431.90 44.75,431.92 45.00,431.93 45.25,431.94 45.50,431.96 45.75,431.97 46.00,431.98 46.25,432.00 46.50,432.01 46.75,432.02 47.00,432.03 47.25,432.05 47.50,432.06 47.75,432.07 48.00,432.08 48.25,432.10 48.50,432.11 48.75,432.12 49.00,432.13 49.25,432.14 49.50,432.15 49.75,432.16 50.00,432.17 50.25,432.18 50.50,432.19 50.75,432.19 51.00,432.20 51.25,432.20 51.50,432.21 51.75,432.21 52.00,432.21 52.25,432.21 52.50,432.21 52.75,432.21 53.00,432.20 53.25,432.18 53.50,432.16 53.75,432.13 54.00,432.10 54.25,432.05 54.50,431.99 54.75,431.92 55.00,431.84 55.25,431.74 55.50,431.62 55.75,431.48 56.00,431.33 56.25,431.15 56.50,430.96 56.75,430.75 57.00,430.53 57.25,430.30 57.50,430.06 57.75,429.82 58.00,429.58 58.25,429.35 58.50,429.14 58.75,428.94 59.00,428.78 59.25,428.64 59.50,428.54 59.75,428.48 60.00,428.46 60.25,428.48 60.50,428.54 60.75,428.64 61.00,428.78 61.25,428.95 61.50,429.14 61.75,429.36 62.00,429.59 62.25,429.83 62.50,430.07 62.75,430.31 63.00,430.54 63.25,430.77 63.50,430.97 63.75,431.17 64.00,431.34 64.25,431.50 64.50,431.64 64.75,431.76 65.00,431.86 65.25,431.95 65.50,432.02 65.75,432.08 66.00,432.13 66.25,432.17 66.50,432.20 66.75,432.23 67.00,432.25 67.25,432.26 67.50,432.27 67.75,432.28 68.00,432.29 68.25,432.29 68.50,432.29 68.75,432.30 69.00,432.30 69.25,432.30 69.50,432.30 69.75,432.30 70.00,432.30 70.25,432.30 70.50,432.30 70.75,432.30 71.00,432.30 71.25,432.30 71.50,432.30 71.75,432.30 72.00,432.30 72.25,432.30 72.50,432.30 72.75,432.30 73.00,432.30 73.25,432.30 73.50,432.30 73.75,432.30 74.00,432.30 74.25,432.30 74.50,432.30 74.75,432.30 75.00,432.30 75.25,432.30 75.50,432.30 75.75,432.30 76.00,432.30 76.25,432.30 76.50,432.30 76.75,432.30 77.00,432.30 77.25,432.30 77.50,432.30 77.75,432.30 78.00,432.30 78.25,432.30 78.50,432.30 78.75,432.30 79.00,432.30 79.25,432.30 79.50,432.30 79.75,432.30 80.00,432.30 80.25,432.30 80.50,432.30 80.75,432.30 81.00,432.30 81.25,432.30 81.50,432.30 81.75,432.30 82.00,432.30 82.25,432.30 82.50,432.30 82.75,432.30 83.00,432.30 83.25,432.30 83.50,432.30 83.75,432.30 84.00,432.30 84.25,432.30 84.50,432.30 84.75,432.30 85.00,432.30 85.25,432.30 85.50,432.30 85.75,432.30 86.00,432.30 86.25,432.30 86.50,432.30 86.75,432.30 87.00,432.30 87.25,432.30 87.50,432.30 87.75,432.30 88.00,432.30 88.25,432.30 88.50,432.30 88.75,432.30 89.00,432.30 89.25,432.30 89.50,432.30 89.75,432.30 90.00,432.30 90.25,432.30 90.50,432.30 90.75,432.30 91.00,432.30 91.25,432.30 91.50,432.30 91.75,432.30 92.00,432.30 92.25,432.30 92.50,432.29 92.75,432.29 93.00,432.29 93.25,432.28 93.50,432.27 93.75,432.25 94.00,432.22 94.25,432.19 94.50,432.14 94.75,432.06 95.00,431.96 95.25,431.83 95.50,431.64 95.75,431.40 96.00,431.08 96.25,430.68 96.50,430.16 96.75,429.52 97.00,428.74 97.25,427.79 97.50,426.66 97.75,425.34 98.00,423.82 98.25,422.09 98.50,420.18 98.75,418.10 99.00,415.87 99.25,413.53 99.50,411.13 99.75,408.74 100.00,406.41 100.25,404.21 100.50,402.22 100.75,400.51 101.00,399.12 101.25,398.12 101.50,397.54 101.75,397.41 102.00,397.72 102.25,398.47 102.50,399.63 102.75,401.16 103.00,402.99 103.25,405.07 103.50,407.33 103.75,409.69 104.00,412.09 104.25,414.47 104.50,416.77 104.75,418.95 105.00,420.97 105.25,422.81 105.50,424.45 105.75,425.89 106.00,427.13 106.25,428.19 106.50,429.07 106.75,429.80 107.00,430.38 107.25,430.85 107.50,431.22 107.75,431.50 108.00,431.72 108.25,431.89 108.50,432.01 108.75,432.09 109.00,432.16 109.25,432.20 109.50,432.23 109.75,432.26 110.00,432.27 110.25,432.28 110.50,432.29 110.75,432.29 111.00,432.30 111.25,432.30 111.50,432.30 111.75,432.30 112.00,432.30 112.25,432.30 112.50,432.30 112.75,432.30 113.00,432.30 113.25,432.30 113.50,432.30 113.75,432.30 114.00,432.30 114.25,432.30 114.50,432.29 114.75,432.29 115.00,432.28 115.25,432.27 115.50,432.25 115.75,432.22 116.00,432.18 116.25,432.13 116.50,432.04 116.75,431.92 117.00,431.74 117.25,431.50 117.50,431.17 117.75,430.71 118.00,430.09 118.25,429.28 118.50,428.20 118.75,426.81 119.00,425.04 119.25,422.81 119.50,420.03 119.75,416.63 120.00,412.53 120.25,407.64 120.50,401.90 120.75,395.27 121.00,387.73 121.25,379.28 121.50,369.96 121.75,359.87 122.00,349.13 122.25,337.92 122.50,326.46 122.75,315.00 123.00,303.83 123.25,293.25 123.50,283.56 123.75,275.07 124.00,268.04 124.25,262.72 124.50,259.28 124.75,257.84 125.00,258.46 125.25,261.11 125.50,265.70 125.75,272.07 126.00,280.01 126.25,289.25 126.50,299.51 126.75,310.48 127.00,321.86 127.25,333.35 127.50,344.69 127.75,355.64 128.00,366.01 128.25,375.65 128.50,384.45 128.75,392.37 129.00,399.36 129.25,405.45 129.50,410.67 129.75,415.08 130.00,418.75 130.25,421.77 130.50,424.21 130.75,426.15 131.00,427.69 131.25,428.88 131.50,429.79 131.75,430.48 132.00,431.00 132.25,431.38 132.50,431.66 132.75,431.86 133.00,432.00 133.25,432.10 133.50,432.16 133.75,432.21 134.00,432.24 134.25,432.26 134.50,432.28 134.75,432.28 135.00,432.29 135.25,432.29 135.50,432.30 135.75,432.30 136.00,432.30 136.25,432.30 136.50,432.30 136.75,432.30 137.00,432.30 137.25,432.30 137.50,432.30 137.75,432.30 138.00,432.30 138.25,432.30 138.50,432.30 138.75,432.30 139.00,432.30 139.25,432.30 139.50,432.30 139.75,432.30 140.00,432.30 140.25,432.30 140.50,432.30 140.75,432.30 141.00,432.30 141.25,432.30 141.50,432.30 141.75,432.30 142.00,432.30 142.25,432.30 142.50,432.30 142.75,432.30 143.00,432.30 143.25,432.29 143.50,432.29 143.75,432.28 144.00,432.27 144.25,432.26 144.50,432.24 144.75,432.21 145.00,432.17 145.25,432.12 145.50,432.04 145.75,431.93 146.00,431.78 146.25,431.57 146.50,431.30 146.75,430.93 147.00,430.45 147.25,429.83 147.50,429.02 147.75,428.00 148.00,426.72 148.25,425.13 148.50,423.17 148.75,420.80 149.00,417.96 149.25,414.59 149.50,410.65 149.75,406.09 150.00,400.89 150.25,395.03 150.50,388.52 150.75,381.39 151.00,373.68 151.25,365.48 151.50,356.88 151.75,348.03 152.00,339.07 152.25,330.19 152.50,321.57 152.75,313.42 153.00,305.95 153.25,299.34 153.50,293.77 153.75,289.41 154.00,286.37 154.25,284.75 154.50,284.56 154.75,285.57 155.00,287.67 155.25,290.82 155.50,294.94 155.75,299.94 156.00,305.68 156.25,312.05 156.50,318.91 156.75,326.10 157.00,333.49 157.25,340.93 157.50,348.32 157.75,355.53 158.00,362.49 158.25,369.12 158.50,375.38 158.75,381.24 159.00,386.70 159.25,391.77 159.50,396.45 159.75,400.76 160.00,404.73 160.25,408.37 160.50,411.69 160.75,414.70 161.00,417.42 161.25,419.84 161.50,421.98 161.75,423.83 162.00,425.41 162.25,426.74 162.50,427.83 162.75,428.71 163.00,429.41 163.25,429.94 163.50,430.33 163.75,430.61 164.00,430.80 164.25,430.92 164.50,430.99 164.75,431.02 165.00,431.01 165.25,430.99 165.50,430.96 165.75,430.92 166.00,430.87 166.25,430.83 166.50,430.80 166.75,430.76 167.00,430.74 167.25,430.73 167.50,430.73 167.75,430.73 168.00,430.75 168.25,430.77 168.50,430.81 168.75,430.85 169.00,430.90 169.25,430.95 169.50,430.99 169.75,431.03 170.00,431.04 170.25,431.03 170.50,430.97 170.75,430.86 171.00,430.68 171.25,430.42 171.50,430.09 171.75,429.69 172.00,429.24 172.25,428.77 172.50,428.31 172.75,427.90 173.00,427.59 173.25,427.40 173.50,427.35 173.75,427.51 174.00,427.87 174.25,428.42 174.50,429.20 174.75,430.29 175.00,431.50 175.25,432.27 175.50,431.81 175.75,429.85 176.00,427.05 176.25,424.32 176.50,421.94 176.75,419.74 177.00,417.58 177.25,415.43 177.50,413.39 177.75,411.55 178.00,410.01 178.25,408.88 178.50,408.21 178.75,408.05 179.00,408.34 179.25,409.04 179.50,410.10 179.75,411.48 180.00,413.11 180.25,414.91 180.50,416.81 180.75,418.75 181.00,420.64 181.25,422.44 181.50,424.11 181.75,425.61 182.00,426.93 182.25,428.07 182.50,429.02 182.75,429.80 183.00,430.43 183.25,430.92 183.50,431.30 183.75,431.59 184.00,431.80 184.25,431.96 184.50,432.07 184.75,432.15 185.00,432.20 185.25,432.24 185.50,432.26 185.75,432.28 186.00,432.28 186.25,432.29 186.50,432.29 186.75,432.30 187.00,432.30 187.25,432.30 187.50,432.30 187.75,432.30 188.00,432.30 188.25,432.30 188.50,432.30 188.75,432.30 189.00,432.29 189.25,432.29 189.50,432.28 189.75,432.27 190.00,432.25 190.25,432.22 190.50,432.18 190.75,432.12 191.00,432.02 191.25,431.89 191.50,431.70 191.75,431.45 192.00,431.10 192.25,430.64 192.50,430.05 192.75,429.29 193.00,428.36 193.25,427.21 193.50,425.85 193.75,424.27 194.00,422.46 194.25,420.46 194.50,418.29 194.75,416.02 195.00,413.70 195.25,411.41 195.50,409.24 195.75,407.29 196.00,405.63 196.25,404.35 196.50,403.52 196.75,403.17 197.00,403.32 197.25,403.96 197.50,405.07 197.75,406.58 198.00,408.43 198.25,410.52 198.50,412.77 198.75,415.09 199.00,417.39 199.25,419.61 199.50,421.68 199.75,423.57 200.00,425.24 200.25,426.70 200.50,427.92 200.75,428.94 201.00,429.77 201.25,430.42 201.50,430.93 201.75,431.32 202.00,431.61 202.25,431.82 202.50,431.98 202.75,432.08 203.00,432.16 203.25,432.21 203.50,432.24 203.75,432.26 204.00,432.28 204.25,432.29 204.50,432.29 204.75,432.30 205.00,432.30 205.25,432.30 205.50,432.30 205.75,432.30 206.00,432.30 206.25,432.30 206.50,432.30 206.75,432.30 207.00,432.30 207.25,432.30 207.50,432.30 207.75,432.30 208.00,432.30 208.25,432.30 208.50,432.30 208.75,432.30 209.00,432.29 209.25,432.29 209.50,432.28 209.75,432.27 210.00,432.26 210.25,432.24 210.50,432.20 210.75,432.16 211.00,432.09 211.25,432.01 211.50,431.91 211.75,431.79 212.00,431.65 212.25,431.48 212.50,431.31 212.75,431.14 213.00,430.97 213.25,430.81 213.50,430.69 213.75,430.60 214.00,430.56 214.25,430.56 214.50,430.62 214.75,430.71 215.00,430.84 215.25,431.00 215.50,431.17 215.75,431.35 216.00,431.52 216.25,431.68 216.50,431.81 216.75,431.93 217.00,432.03 217.25,432.11 217.50,432.17 217.75,432.21 218.00,432.24 218.25,432.26 218.50,432.28 218.75,432.29 219.00,432.29 219.25,432.30 219.50,432.30 219.75,432.30 220.00,432.30 220.25,432.30 220.50,432.30 220.75,432.30 221.00,432.30 221.25,432.30 221.50,432.30 221.75,432.30 222.00,432.30 222.25,432.30 222.50,432.30 222.75,432.30 223.00,432.30 223.25,432.30 223.50,432.30 223.75,432.30 224.00,432.30 224.25,432.30 224.50,432.30 224.75,432.30 225.00,432.30 225.25,432.30 225.50,432.30 225.75,432.30 226.00,432.30 226.25,432.30 226.50,432.30 226.75,432.30 227.00,432.30 227.25,432.30 227.50,432.30 227.75,432.30 228.00,432.30 228.25,432.30 228.50,432.30 228.75,432.30 229.00,432.30 229.25,432.30 229.50,432.30 229.75,432.30 230.00,432.30 230.25,432.30 230.50,432.30 230.75,432.30 231.00,432.30 231.25,432.30 231.50,432.30 231.75,432.30 232.00,432.30 232.25,432.30 232.50,432.30 232.75,432.30 233.00,432.30 233.25,432.30 233.50,432.30 233.75,432.30 234.00,432.30 234.25,432.30 234.50,432.30 234.75,432.30 235.00,432.30 235.25,432.30 235.50,432.30 235.75,432.30 236.00,432.30 236.25,432.30 236.50,432.30 236.75,432.30 237.00,432.30 237.25,432.30 237.50,432.30 237.75,432.30 238.00,432.30 238.25,432.30 238.50,432.30 238.75,432.30 239.00,432.30 239.25,432.30 239.50,432.30 239.75,432.30 240.00,432.30 240.25,432.30 240.50,432.30 240.75,432.30 241.00,432.30 241.25,432.30 241.50,432.30 241.75,432.30 242.00,432.30 242.25,432.30 242.50,432.30 242.75,432.30 243.00,432.30 243.25,432.30 243.50,432.30 243.75,432.30 244.00,432.30 244.25,432.30 244.50,432.30 244.75,432.30 245.00,432.30 245.25,432.30 245.50,432.30 245.75,432.30 246.00,432.30 246.25,432.30 246.50,432.30 246.75,432.30 247.00,432.29 247.25,432.29 247.50,432.29 247.75,432.28 248.00,432.27 248.25,432.25 248.50,432.23 248.75,432.20 249.00,432.16 249.25,432.11 249.50,432.03 249.75,431.94 250.00,431.81 250.25,431.66 250.50,431.47 250.75,431.25 251.00,430.98 251.25,430.67 251.50,430.32 251.75,429.93 252.00,429.50 252.25,429.06 252.50,428.60" fill="none" stroke="#0072BD" stroke-width="1.7" stroke-linejoin="round" stroke-linecap="butt" /><path d="M321.50,432.30 397.80,432.30 398.50,425.50 399.20,432.30 414.80,432.30 414.90,350.00 415.30,290.00 416.00,258.60 416.70,290.00 417.30,350.00 417.50,432.30 427.60,432.30 427.70,425.50 429.50,422.80 432.80,421.20 436.00,422.80 438.10,425.00 438.30,432.30 445.10,432.30 445.20,390.00 446.30,345.00 447.30,325.00 448.40,345.00 448.90,400.00 449.10,432.30 543.50,432.30" fill="none" stroke="#0072BD" stroke-width="1.45" stroke-linejoin="round" stroke-linecap="butt" /></svg></body></html>
